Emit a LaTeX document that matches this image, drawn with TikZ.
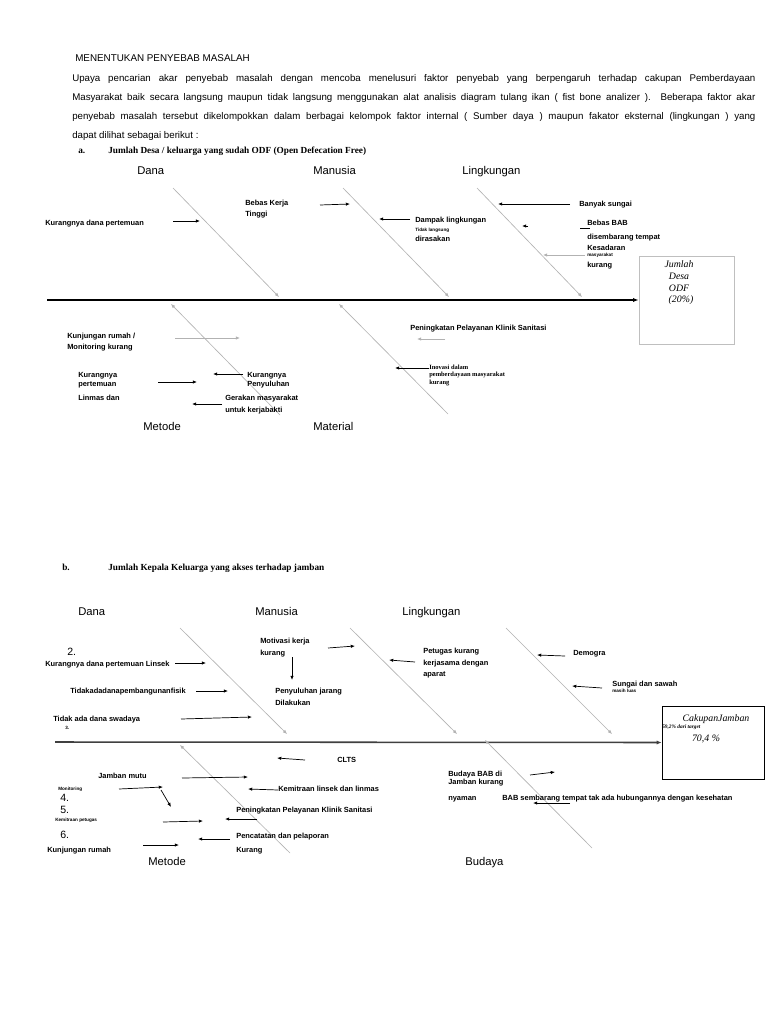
\documentclass[tikz,border=0pt]{standalone}
\usepackage{fontspec}
\setmainfont{Liberation Sans}
\newfontfamily\tnr{Liberation Serif}
\usetikzlibrary{arrows.meta}

\tikzset{
  txt/.style={anchor=west, inner sep=0pt, text height=0.72em, text depth=0.2em, font=\fontsize{5.3}{6}\selectfont\bfseries},
  tinytxt/.style={anchor=west, inner sep=0pt, text height=0.72em, text depth=0.2em, font=\fontsize{3.3}{4}\selectfont\bfseries},
  cat/.style={anchor=west, inner sep=0pt, text height=0.72em, text depth=0.2em, font=\fontsize{8}{9}\selectfont},
  num/.style={anchor=west, inner sep=0pt, text height=0.72em, text depth=0.2em, font=\fontsize{7.5}{8}\selectfont},
  body/.style={anchor=base west, inner sep=0pt, font=\fontsize{6.9}{8}\selectfont},
  head/.style={anchor=west, inner sep=0pt, text height=0.72em, text depth=0.2em, font=\fontsize{6.6}{7}\selectfont\tnr\bfseries},
  boxtxt/.style={inner sep=0pt, text height=0.72em, text depth=0.2em, font=\fontsize{7}{8}\selectfont\tnr\itshape},
  bone/.style={gray!60, line width=0.45pt, -{Latex[length=3pt,width=2.4pt]}},
  cause/.style={black, line width=0.5pt, -{Latex[length=3pt,width=2.4pt]}},
  causegray/.style={cause, gray!60},
}

\begin{document}
\begin{tikzpicture}[x=0.025cm, y=-0.025cm]
  \useasboundingbox[fill=white] (0,0) rectangle (768,1024);

  % Text above the diagrams
  \node[anchor=west, inner sep=0pt, font=\fontsize{7}{8}\selectfont] (title) at (75,58) {MENENTUKAN PENYEBAB MASALAH};
  \node[body] (par1) at (72,82) {\makebox[17.075cm][s]{Upaya pencarian akar penyebab masalah dengan mencoba menelusuri faktor penyebab yang berpengaruh terhadap cakupan Pemberdayaan}};
  \node[body] (par2) at (72,101) {\makebox[17.075cm][s]{Masyarakat baik secara langsung maupun tidak langsung menggunakan alat analisis diagram tulang ikan ( fist bone analizer ). Beberapa faktor akar}};
  \node[body] (par3) at (72,120) {\makebox[17.075cm][s]{penyebab masalah tersebut dikelompokkan dalam berbagai kelompok faktor internal ( Sumber daya ) maupun fakator eksternal (lingkungan ) yang}};
  \node[body] (par4) at (72,139) {dapat dilihat sebagai berikut :};

  % ---------------- Diagram a ----------------
  \node[head] (aNo) at (78,150) {a.};
  \node[head] (aHead) at (108,150) {Jumlah Desa / keluarga yang sudah ODF (Open Defecation Free)};

  \node[cat] (aDana) at (137,171) {Dana};
  \node[cat] (aManusia) at (313,171) {Manusia};
  \node[cat] (aLingk) at (462,171) {Lingkungan};
  \node[cat] (aMetode) at (143,427) {Metode};
  \node[cat] (aMaterial) at (313,427) {Material};

  % Effect box and spine
  \node[draw=gray!50, line width=0.5pt, minimum width=2.375cm, minimum height=2.2cm, inner sep=0pt] (box1) at (686.5,300) {};
  \node[boxtxt] (aE1) at (679,264) {Jumlah};
  \node[boxtxt] (aE2) at (679,276) {Desa};
  \node[boxtxt] (aE3) at (679,288) {ODF};
  \node[boxtxt] (aE4) at (681,299) {(20\%)};
  \coordinate (aSpine) at (47,300);
  \draw[line width=1.6pt, -{Latex[length=4pt,width=3pt]}] (aSpine) -- (box1.west);

  % Bones
  \coordinate (aDanaA) at (173,188);  \coordinate (aDanaB) at (279,297);
  \coordinate (aManA) at (343,188);   \coordinate (aManB) at (449,297);
  \coordinate (aLinA) at (477,188);   \coordinate (aLinB) at (582,297);
  \coordinate (aMetA) at (280,415);   \coordinate (aMetB) at (171,304);
  \coordinate (aMatA) at (448,414);   \coordinate (aMatB) at (339,304);
  \draw[bone] (aDanaA) -- (aDanaB);
  \draw[bone] (aManA) -- (aManB);
  \draw[bone] (aLinA) -- (aLinB);
  \draw[bone] (aMetA) -- (aMetB);
  \draw[bone] (aMatA) -- (aMatB);

  % Causes, top
  \node[txt] (aK1) at (45,222) {Kurangnya dana pertemuan};
  \node[txt] (aK2a) at (245,202) {Bebas Kerja};
  \node[txt] (aK2b) at (245,213) {Tinggi};
  \node[txt] (aK3a) at (415,219) {Dampak lingkungan};
  \node[tinytxt] (aK3b) at (415,228) {Tidak langsung};
  \node[txt] (aK3c) at (415,238) {dirasakan};
  \node[txt] (aK4) at (579,203) {Banyak sungai};
  \node[txt] (aK5a) at (587,222) {Bebas BAB};
  \node[txt] (aK5b) at (587,236) {disembarang tempat};
  \node[txt] (aK5c) at (587,247) {Kesadaran};
  \node[tinytxt] (aK5d) at (587,253) {masyarakat};
  \node[txt] (aK5e) at (587,264) {kurang};

  \coordinate (a1s) at (173,221); \coordinate (a1e) at (200,221);
  \coordinate (a2s) at (320,205); \coordinate (a2e) at (350,204);
  \coordinate (a3s) at (410,219); \coordinate (a3e) at (379,219);
  \coordinate (a4s) at (570,204); \coordinate (a4e) at (498,204);
  \coordinate (a5s) at (580,228); \coordinate (a5e) at (590,228);
  \coordinate (a5t) at (528,226); \coordinate (a5u) at (522,226);
  \coordinate (a6s) at (585,255); \coordinate (a6e) at (543,255);
  \draw[cause] (a1s) -- (a1e);
  \draw[cause] (a2s) -- (a2e);
  \draw[cause] (a3s) -- (a3e);
  \draw[cause] (a4s) -- (a4e);
  \draw[line width=0.6pt] (a5s) -- (a5e);
  \draw[cause] (a5t) -- (a5u);
  \draw[causegray] (a6s) -- (a6e);

  % Causes, bottom
  \node[txt] (aM1a) at (67,335) {Kunjungan rumah /};
  \node[txt] (aM1b) at (67,346) {Monitoring kurang};
  \node[txt] (aM2a) at (78,374) {Kurangnya};
  \node[txt] (aM2b) at (78,383) {pertemuan};
  \node[txt] (aM3) at (78,397) {Linmas dan};
  \node[txt] (aM4a) at (247,374) {Kurangnya};
  \node[txt] (aM4b) at (247,383) {Penyuluhan};
  \node[txt] (aM5a) at (225,397) {Gerakan masyarakat};
  \node[txt] (aM5b) at (225,409) {untuk kerjabakti};
  \node[txt] (aM6) at (410,327) {Peningkatan Pelayanan Klinik Sanitasi};
  \node[anchor=west, inner sep=0pt, font=\fontsize{4.6}{5}\selectfont\tnr\bfseries] (aM7a) at (429,367) {Inovasi dalam};
  \node[anchor=west, inner sep=0pt, font=\fontsize{4.6}{5}\selectfont\tnr\bfseries] (aM7b) at (429,375) {pemberdayaan masyarakat};
  \node[anchor=west, inner sep=0pt, font=\fontsize{4.6}{5}\selectfont\tnr\bfseries] (aM7c) at (429,383) {kurang};

  \coordinate (a7s) at (175,338);  \coordinate (a7e) at (240,338);
  \coordinate (a8s) at (445,339);  \coordinate (a8e) at (417,339);
  \coordinate (a9s) at (429,368);  \coordinate (a9e) at (395,368);
  \coordinate (a10s) at (158,382); \coordinate (a10e) at (197,382);
  \coordinate (a11s) at (243,374); \coordinate (a11e) at (213,374);
  \coordinate (a12s) at (222,404); \coordinate (a12e) at (192,404);
  \draw[causegray] (a7s) -- (a7e);
  \draw[causegray] (a8s) -- (a8e);
  \draw[cause] (a9s) -- (a9e);
  \draw[cause] (a10s) -- (a10e);
  \draw[cause] (a11s) -- (a11e);
  \draw[cause] (a12s) -- (a12e);

  % ---------------- Diagram b ----------------
  \node[head] (bNo) at (62,567) {b.};
  \node[head] (bHead) at (108,567) {Jumlah Kepala Keluarga yang akses terhadap jamban};

  \node[cat] (bDana) at (78,612) {Dana};
  \node[cat] (bManusia) at (255,612) {Manusia};
  \node[cat] (bLingk) at (402,612) {Lingkungan};
  \node[cat] (bMetode) at (148,862) {Metode};
  \node[cat] (bBudaya) at (465,862) {Budaya};

  % Effect box and spine
  \node[draw, line width=0.6pt, minimum width=2.55cm, minimum height=1.825cm, inner sep=0pt] (box2) at (713,742.5) {};
  \node[boxtxt] (bE1) at (716,718) {CakupanJamban};
  \node[anchor=west, inner sep=0pt, font=\fontsize{3.8}{4}\selectfont\tnr\bfseries\itshape] (bE2) at (662,727) {59,2\% dari target};
  \node[boxtxt] (bE3) at (706,738) {70,4 \%};
  \coordinate (bSpine) at (55,742);
  \draw[black!75, line width=1.1pt, -{Latex[length=3.5pt,width=3pt]}] (bSpine) -- (box2.west);

  % Bones
  \coordinate (bDanaA) at (180,628);  \coordinate (bDanaB) at (287,734);
  \coordinate (bManA) at (350,628);   \coordinate (bManB) at (457,734);
  \coordinate (bLinA) at (506,628);   \coordinate (bLinB) at (612,734);
  \coordinate (bMetA) at (290,853);   \coordinate (bMetB) at (180,745);
  \coordinate (bBudA) at (592,848);   \coordinate (bBudB) at (485,740);
  \draw[bone] (bDanaA) -- (bDanaB);
  \draw[bone] (bManA) -- (bManB);
  \draw[bone] (bLinA) -- (bLinB);
  \draw[bone] (bMetA) -- (bMetB);
  \draw[bone] (bBudA) -- (bBudB);

  % Causes, top
  \node[num] (bN2) at (67,652) {2.};
  \node[txt] (bK1) at (45,663) {Kurangnya dana pertemuan Linsek};
  \node[txt] (bK2) at (70,690) {Tidakadadanapembangunanfisik};
  \node[txt] (bK3) at (53,718) {Tidak ada dana swadaya};
  \node[tinytxt] (bN3) at (65,726) {3.};
  \node[txt] (bK4a) at (260,640) {Motivasi kerja};
  \node[txt] (bK4b) at (260,652) {kurang};
  \node[txt] (bK5a) at (275,690) {Penyuluhan jarang};
  \node[txt] (bK5b) at (275,702) {Dilakukan};
  \node[txt] (bK6a) at (423,650) {Petugas kurang};
  \node[txt] (bK6b) at (423,662) {kerjasama dengan};
  \node[txt] (bK6c) at (423,673) {aparat};
  \node[txt] (bK7) at (573,652) {Demogra};
  \node[txt] (bK8a) at (612,683) {Sungai dan sawah};
  \node[tinytxt] (bK8b) at (612,689) {masih luas};

  \coordinate (b1s) at (175,663); \coordinate (b1e) at (206,663);
  \coordinate (b2s) at (196,691); \coordinate (b2e) at (228,691);
  \coordinate (b3s) at (181,719); \coordinate (b3e) at (252,717);
  \coordinate (b4s) at (328,648); \coordinate (b4e) at (355,646);
  \coordinate (b5s) at (292,657); \coordinate (b5e) at (292,680);
  \coordinate (b6s) at (415,662); \coordinate (b6e) at (389,660);
  \coordinate (b7s) at (565,656); \coordinate (b7e) at (537,655);
  \coordinate (b8s) at (602,688); \coordinate (b8e) at (572,686);
  \draw[cause] (b1s) -- (b1e);
  \draw[cause] (b2s) -- (b2e);
  \draw[cause] (b3s) -- (b3e);
  \draw[cause] (b4s) -- (b4e);
  \draw[cause] (b5s) -- (b5e);
  \draw[cause] (b6s) -- (b6e);
  \draw[cause] (b7s) -- (b7e);
  \draw[cause] (b8s) -- (b8e);

  % Causes, bottom
  \node[txt] (bM1) at (337,759) {CLTS};
  \node[txt] (bM2) at (98,775) {Jamban mutu};
  \node[tinytxt] (bM3) at (58,787) {Monitoring};
  \node[num] (bN4) at (60,798) {4.};
  \node[txt] (bM4) at (278,788) {Kemitraan linsek dan linmas};
  \node[num] (bN5) at (60,810) {5.};
  \node[tinytxt] (bM5) at (55,818) {Kemitraan petugas};
  \node[txt] (bM6) at (236,809) {Peningkatan Pelayanan Klinik Sanitasi};
  \node[num] (bN6) at (60,835) {6.};
  \node[txt] (bM7) at (47,849) {Kunjungan rumah};
  \node[txt] (bM8a) at (236,835) {Pencatatan dan pelaporan};
  \node[txt] (bM8b) at (236,849) {Kurang};
  \node[txt] (bM9a) at (448,773) {Budaya BAB di};
  \node[txt] (bM9b) at (448,781) {Jamban kurang};
  \node[txt] (bM9c) at (448,797) {nyaman};
  \node[txt] (bM10) at (502,797) {BAB sembarang tempat tak ada hubungannya dengan kesehatan};

  \coordinate (b9s) at (305,760);  \coordinate (b9e) at (277,758);
  \coordinate (b10s) at (182,778); \coordinate (b10e) at (248,777);
  \coordinate (b11s) at (119,789); \coordinate (b11e) at (163,787);
  \coordinate (b12s) at (161,790); \coordinate (b12e) at (171,807);
  \coordinate (b13s) at (278,790); \coordinate (b13e) at (248,789);
  \coordinate (b14s) at (257,819); \coordinate (b14e) at (225,819);
  \coordinate (b15s) at (163,822); \coordinate (b15e) at (203,821);
  \coordinate (b16s) at (143,845); \coordinate (b16e) at (179,845);
  \coordinate (b17s) at (230,839); \coordinate (b17e) at (198,839);
  \coordinate (b18s) at (530,775); \coordinate (b18e) at (555,772);
  \coordinate (b19s) at (570,803); \coordinate (b19e) at (533,803);
  \draw[cause] (b9s) -- (b9e);
  \draw[cause] (b10s) -- (b10e);
  \draw[cause] (b11s) -- (b11e);
  \draw[cause] (b12s) -- (b12e);
  \draw[cause] (b13s) -- (b13e);
  \draw[cause] (b14s) -- (b14e);
  \draw[cause] (b15s) -- (b15e);
  \draw[cause] (b16s) -- (b16e);
  \draw[cause] (b17s) -- (b17e);
  \draw[cause] (b18s) -- (b18e);
  \draw[cause] (b19s) -- (b19e);
\end{tikzpicture}
\end{document}
